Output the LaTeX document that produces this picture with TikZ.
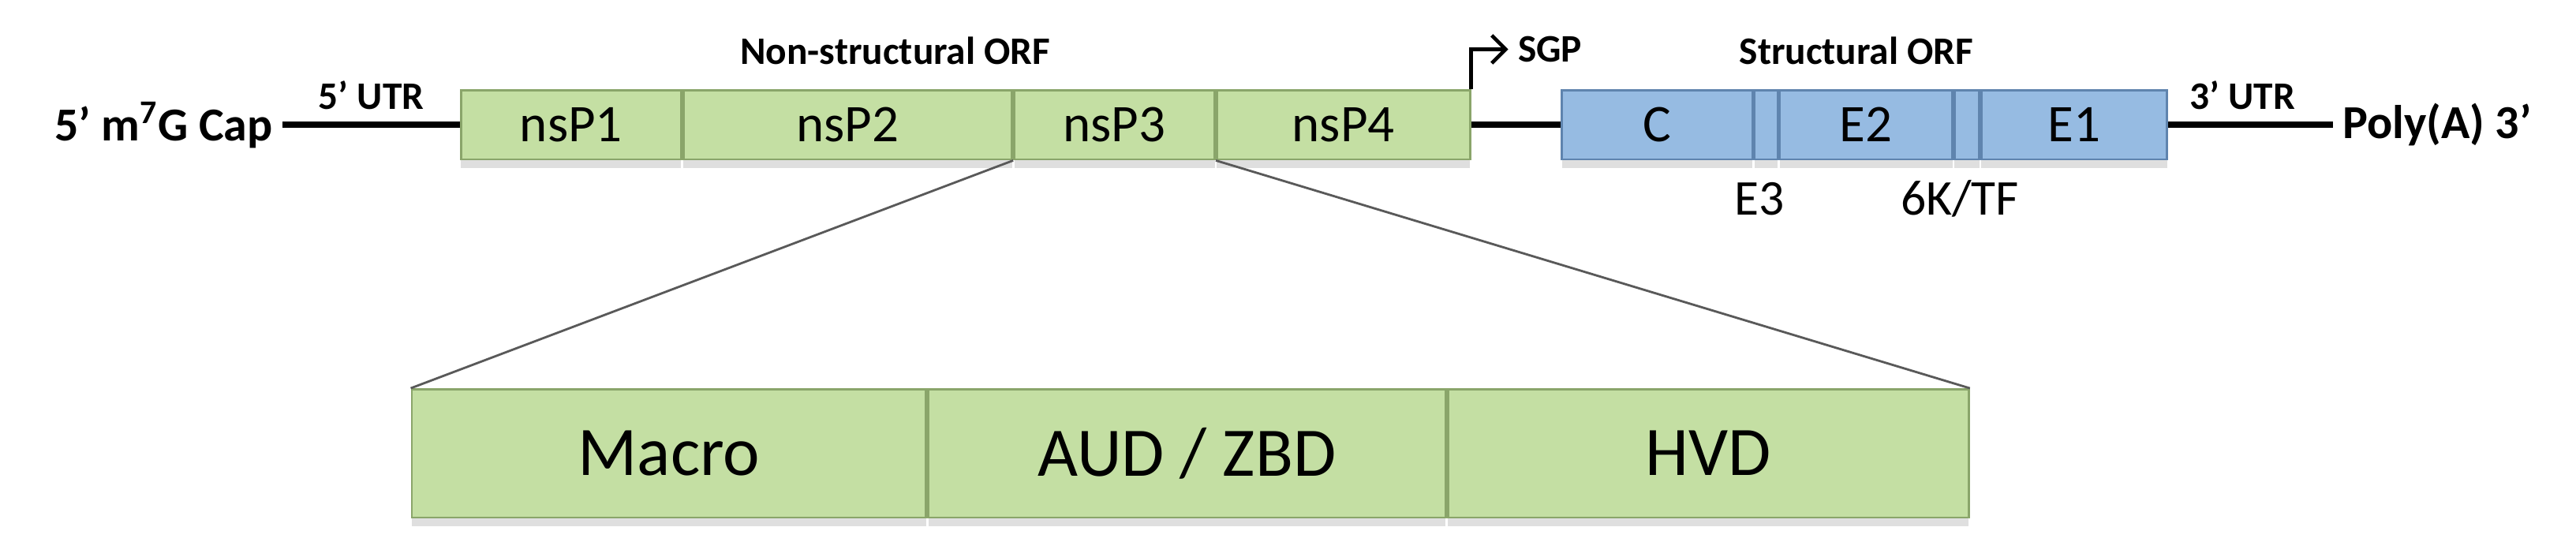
\documentclass[tikz,border=0pt]{standalone}
\usepackage{fontspec}
\setmainfont{Carlito}
\usetikzlibrary{positioning,shadows,arrows.meta}
\definecolor{nsgreen}{HTML}{C4DFA3}
\definecolor{nsedge}{HTML}{8AA56A}
\definecolor{sblue}{HTML}{96BBE2}
\definecolor{sedge}{HTML}{5F84AE}
\newlength{\unitpx}
\setlength{\unitpx}{0.5906pt}
\tikzset{
	gbox/.style={draw=nsedge, fill=nsgreen, line width=0.8pt, inner sep=0pt, minimum height=42\unitpx, drop shadow={opacity=0.25, shadow xshift=0pt, shadow yshift=-3pt}, font=\fontsize{19}{21}\selectfont},
	bbox/.style={gbox, draw=sedge, fill=sblue},
	lbl/.style={font=\bfseries\fontsize{14}{16}\selectfont},
	ends/.style={font=\bfseries\fontsize{17}{19}\selectfont},
	rna/.style={line width=2.2pt},
}
\begin{document}
\begin{tikzpicture}[x=0.5906pt,y=-0.5906pt]
	\useasboundingbox (0,0) rectangle (1568,339);
	
	\node[gbox, minimum width=134\unitpx, anchor=west](P1) at (280,76){nsP1};
	\node[gbox, minimum width=200\unitpx, right=0pt of P1](P2){nsP2};
	\node[gbox, minimum width=122\unitpx, right=0pt of P2](P3){nsP3};
	\node[gbox, minimum width=154\unitpx, right=0pt of P3](P4){nsP4};
	
	\node[bbox, minimum width=116\unitpx, anchor=west](C) at (950,76){C};
	\node[bbox, minimum width=14\unitpx, right=0pt of C](E3){};
	\node[bbox, minimum width=105\unitpx, right=0pt of E3](E2){E2};
	\node[bbox, minimum width=15\unitpx, right=0pt of E2](K6){};
	\node[bbox, minimum width=113\unitpx, right=0pt of K6](E1){E1};
	
	\node[ends, anchor=east](CAP) at (172,76){5\textquoteright{} m\textsuperscript{7}G Cap};
	\node[ends, anchor=west](POLY) at (1420,76){Poly(A) 3\textquoteright};
	\node[lbl](UTR5) at (226,58){5\textquoteright{} UTR};
	\node[lbl](UTR3) at (1365,58){3\textquoteright{} UTR};
	\node[lbl](NSORF) at (545,31){Non-structural ORF};
	\node[lbl](SORF) at (1130,31){Structural ORF};
	\node[font=\fontsize{18}{20}\selectfont](LE3) at (1071,121){E3};
	\node[font=\fontsize{18}{20}\selectfont](LK6) at (1193,121){6K/TF};
	
	\draw[rna] (CAP.east) -- (P1.west);
	\draw[rna] (P4.east) -- (C.west);
	\draw[rna] (E1.east) -- (POLY.west);
	
	\coordinate (SG) at (918,30);
	\draw[line width=1.3pt, -{Straight Barb[length=5pt,width=10pt]}] (P4.north east) |- (SG);
	\node[lbl, anchor=west](SGP) at (SG){SGP};
	
	\node[gbox, minimum width=313\unitpx, minimum height=78\unitpx, anchor=west, font=\fontsize{25}{28}\selectfont](MAC) at (250,276){Macro};
	\node[gbox, minimum width=315\unitpx, minimum height=78\unitpx, right=0pt of MAC, font=\fontsize{25}{28}\selectfont](AUD){AUD / ZBD};
	\node[gbox, minimum width=317\unitpx, minimum height=78\unitpx, right=0pt of AUD, font=\fontsize{25}{28}\selectfont](HVD){HVD};
	
	\draw[gray!70!black, line width=0.8pt] (P3.south west) -- (MAC.north west);
	\draw[gray!70!black, line width=0.8pt] (P3.south east) -- (HVD.north east);
\end{tikzpicture}
\end{document}
